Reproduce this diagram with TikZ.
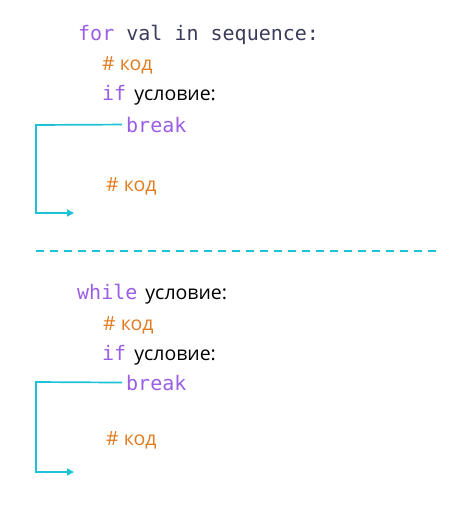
\documentclass[tikz,border=0pt]{standalone}
\usepackage{fontspec}
\setmainfont{Open Sans}
\setmonofont{DejaVu Sans Mono}
\usetikzlibrary{positioning, arrows.meta}
\definecolor{kwpurple}{HTML}{9B5DE5}
\definecolor{codenavy}{HTML}{3B3B5C}
\definecolor{cmtorange}{HTML}{E07B1F}
\definecolor{jumpcyan}{HTML}{1EC2D6}
\newcommand{\cond}{\hspace{8pt}{\fontsize{19.5}{23}\rmfamily\color{black}условие:}}

\begin{document}
\begin{tikzpicture}[
    x=1pt, y=-1pt,
    code/.style={anchor=base west, inner sep=0pt, font=\fontsize{20}{24}\selectfont\ttfamily},
    txt/.style={anchor=base west, inner sep=0pt, font=\fontsize{19.5}{23}\selectfont},
    cmt/.style={txt, text=cmtorange},
    jump/.style={-{Triangle[length=7pt, width=7pt]}, jumpcyan, line width=1.7pt},
    sep/.style={jumpcyan, line width=1.7pt, dash pattern=on 8pt off 6pt},
  ]
    \useasboundingbox (0,0) rectangle (474,506);

    % for loop
    \node[code] (forline) at (78,40) {\textcolor{kwpurple}{for} \textcolor{codenavy}{val in sequence:}};
    \node[cmt] (forcmt1) at (102,70) {\# код};
    \node[code] (forif) at (102,100) {\textcolor{kwpurple}{if}\cond};
    \node[code, text=kwpurple] (forbreak) at (126,132) {break};
    \node[cmt] (forcmt2) at (106,191) {\# код};
    \coordinate (forturn) at (36,125);
    \coordinate (forout) at (74,213);

    \draw[jump] ([xshift=-4pt]forbreak.west) -- (forturn) |- (forout);

    % separator
    \coordinate (sepl) at (36,251);
    \coordinate (sepr) at (440,251);
    \draw[sep] (sepl) -- (sepr);

    % while loop
    \node[code] (whileline) at (77,299) {\textcolor{kwpurple}{while}\cond};
    \node[cmt] (whilecmt1) at (103,330) {\# код};
    \node[code] (whileif) at (102,360) {\textcolor{kwpurple}{if}\cond};
    \node[code, text=kwpurple] (whilebreak) at (126,390) {break};
    \node[cmt] (whilecmt2) at (106,445) {\# код};
    \coordinate (whileturn) at (36,382);
    \coordinate (whileout) at (74,472);

    \draw[jump] ([xshift=-4pt]whilebreak.west) -- (whileturn) |- (whileout);
  \end{tikzpicture}
\end{document}
